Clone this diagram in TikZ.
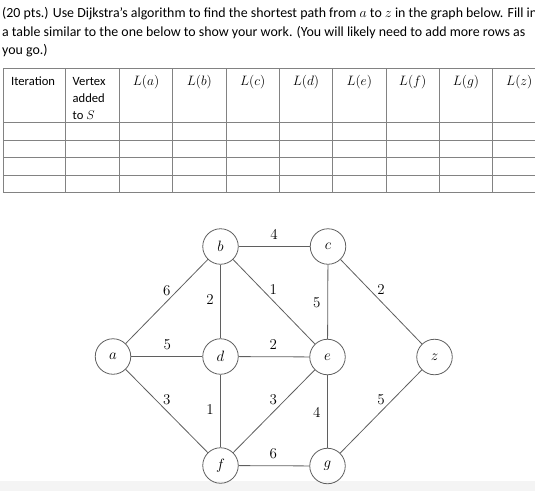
\RequirePackage{fix-cm}
\documentclass[tikz,border=0pt]{standalone}
\usepackage{fontspec}
\setmainfont{Carlito}
\definecolor{tabline}{RGB}{130,130,130}
\definecolor{edgecol}{RGB}{95,95,95}
\definecolor{bandcol}{RGB}{244,244,244}
\tikzset{
  vert/.style={circle,draw=edgecol,line width=0.8pt,minimum size=35.5pt,inner sep=0pt,font=\fontsize{15}{18}\selectfont},
  edge/.style={draw=edgecol,line width=0.8pt},
  wlab/.style={inner sep=0pt,font=\fontsize{15}{18}\selectfont},
  para/.style={anchor=base west,inner sep=0pt,font=\fontsize{13.9}{18}\selectfont},
  thead/.style={anchor=base west,inner sep=0pt,font=\fontsize{12.6}{17}\selectfont},
  tmath/.style={anchor=base,inner sep=0pt,font=\fontsize{13.6}{17}\selectfont},
  tline/.style={draw=tabline,line width=1pt}
}
\begin{document}
\begin{tikzpicture}[x=1pt,y=-1pt]
\useasboundingbox (0,0) rectangle (535,491);
\clip (0,0) rectangle (535,491);
\fill[bandcol] (0,481) rectangle (535,491);
% paragraph
\node[para] (p1) at (2,17.5) {(20 pts.) Use Dijkstra’s algorithm to find the shortest path from $a$ to $z$ in the graph below. Fill in};
\node[para] (p2) at (2,36) {a table similar to the one below to show your work. (You will likely need to add more rows as};
\node[para] (p3) at (2,54) {you go.)};
% table grid
\foreach \y in {68,122.3,140,157.5,175,192.7} \draw[tline] (3.5,\y) -- (548,\y);
\foreach \x in {3.5,65.7,119.3,172.7,226,279.3,332.7,386,439.3,492.7} \draw[tline] (\x,68) -- (\x,192.7);
% header
\node[thead] (h1) at (11,85) {Iteration};
\node[thead] (h2a) at (72.5,85) {Vertex};
\node[thead] (h2b) at (72.5,102) {added};
\node[thead] (h2c) at (72.5,119) {to $S$};
\node[tmath] (la) at (146,85) {$L(a)$};
\node[tmath] (lb) at (199.3,85) {$L(b)$};
\node[tmath] (lc) at (252.7,85) {$L(c)$};
\node[tmath] (ld) at (306,85) {$L(d)$};
\node[tmath] (le) at (359.3,85) {$L(e)$};
\node[tmath] (lf) at (412.7,85) {$L(f)$};
\node[tmath] (lg) at (466,85) {$L(g)$};
\node[tmath] (lz) at (519.3,85) {$L(z)$};
% graph vertices
\node[vert] (b) at (220.5,246.5) {$b$};
\node[vert] (c) at (328,246.5) {$c$};
\node[vert] (a) at (113,356.5) {$a$};
\node[vert] (d) at (220.5,356.5) {$d$};
\node[vert] (e) at (327.5,357) {$e$};
\node[vert] (z) at (434.5,357) {$z$};
\node[vert] (f) at (220.5,465.5) {$f$};
\node[vert] (g) at (327.5,466) {$g$};
% edges
\draw[edge] (a) -- (b);
\draw[edge] (b) -- (c);
\draw[edge] (b) -- (d);
\draw[edge] (b) -- (e);
\draw[edge] (c) -- (e);
\draw[edge] (c) -- (z);
\draw[edge] (a) -- (d);
\draw[edge] (d) -- (e);
\draw[edge] (a) -- (f);
\draw[edge] (d) -- (f);
\draw[edge] (e) -- (f);
\draw[edge] (e) -- (g);
\draw[edge] (f) -- (g);
\draw[edge] (g) -- (z);
% weights
\node[wlab] (wab) at (166.7,290.5) {$6$};
\node[wlab] (wbd) at (210,300) {$2$};
\node[wlab] (wbe) at (273.3,290) {$1$};
\node[wlab] (wbc) at (274,235) {$4$};
\node[wlab] (wce) at (316.7,302.5) {$5$};
\node[wlab] (wcz) at (381,290) {$2$};
\node[wlab] (wad) at (167.3,345) {$5$};
\node[wlab] (wde) at (273.3,345) {$2$};
\node[wlab] (waf) at (166.7,400) {$3$};
\node[wlab] (wdf) at (210,410) {$1$};
\node[wlab] (wef) at (273.3,400) {$3$};
\node[wlab] (weg) at (316.7,412.5) {$4$};
\node[wlab] (wfg) at (273.3,454) {$6$};
\node[wlab] (wgz) at (381,400) {$5$};
\end{tikzpicture}
\end{document}
